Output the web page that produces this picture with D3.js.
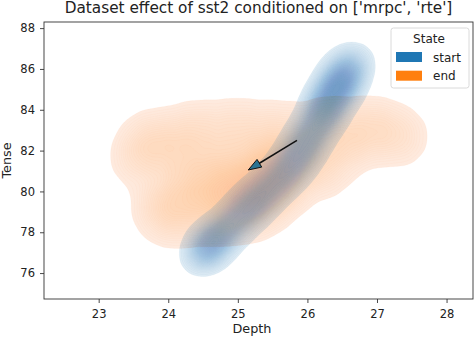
<!DOCTYPE html>
<html>
<head>
<meta charset="utf-8">
<script src="https://cdn.jsdelivr.net/npm/d3@7"></script>
<style>
  body { margin: 0; background: #fff; }
  text { font-family: "DejaVu Sans", sans-serif; fill: #222; }
</style>
</head>
<body>
<svg id="chart" width="474" height="338"></svg>
<script>
// samples per state: [Depth, Tense]
const startPoints = [
  [24.46, 76.9], [24.54, 77.0], [24.58, 77.4], [24.68, 77.5], [24.74, 77.9], [24.86, 78.0],
  [24.90, 78.5], [25.05, 78.6], [25.07, 79.1], [25.22, 79.2], [25.22, 79.6], [25.37, 79.7],
  [25.41, 80.2], [25.55, 80.3], [25.60, 80.8], [25.74, 80.9], [25.74, 81.4], [25.88, 81.5],
  [25.85, 82.0], [25.99, 82.1], [25.95, 82.6], [26.09, 82.7], [26.06, 83.2], [26.20, 83.3],
  [26.17, 83.8], [26.31, 83.9], [26.27, 84.4], [26.41, 84.5], [26.37, 85.0], [26.51, 85.1],
  [26.46, 85.6], [26.60, 85.7], [26.55, 86.1], [26.68, 86.3],
  [26.30, 84.7], [26.42, 85.2], [26.22, 84.1], [26.50, 85.4], [24.64, 77.6]
];
const endPoints = [
  [23.8, 82.6], [24.4, 83.0], [25.0, 83.1], [25.6, 83.0], [26.3, 83.2], [26.9, 83.2],
  [23.6, 81.7], [24.2, 81.9], [24.8, 81.6], [25.4, 81.8], [26.0, 82.0], [26.6, 82.3], [27.3, 82.7],
  [24.2, 80.4], [24.6, 80.6], [25.1, 80.3], [25.7, 80.8], [26.2, 81.1],
  [23.9, 79.3], [24.5, 79.5], [25.1, 79.6], [25.5, 79.9],
  [24.1, 78.7], [24.7, 78.8], [25.2, 79.0],
  [25.3, 80.9], [25.6, 81.2], [24.9, 80.0], [25.5, 80.2]
];
// mean shift start -> end
const arrowFrom = [25.85, 82.5];
const arrowTo = [25.15, 81.05];

const states = ['start', 'end'];
const stateColors = ['#1f77b4', '#ff7f0e'];
const contourColors = ['#1f77b4', '#f8803a'];
const xTicks = [23, 24, 25, 26, 27, 28];
const yTicks = [76, 78, 80, 82, 84, 86, 88];

const W = 474, H = 338;
const margin = {left: 44, right: 473, top: 22, bottom: 299};

const svg = d3.select('#chart');

const x = d3.scaleLinear().domain([22.214, 28.38]).range([margin.left, margin.right]);
const y = d3.scaleLinear().domain([74.73, 88.3]).range([margin.bottom, margin.top]);

svg.append('defs').append('clipPath').attr('id', 'plotclip')
  .append('rect')
  .attr('x', margin.left).attr('y', margin.top)
  .attr('width', margin.right - margin.left).attr('height', margin.bottom - margin.top);

const plot = svg.append('g').attr('clip-path', 'url(#plotclip)');

const densityFor = bw => d3.contourDensity()
  .x(d => x(d[0]))
  .y(d => y(d[1]))
  .size([W, H])
  .cellSize(2)
  .bandwidth(bw);

const drawDensity = (points, color, bw, opts) => {
  // find the peak first, then lay out evenly spaced levels above the cut
  const probe = densityFor(bw).thresholds(400)(points);
  const peak = probe[probe.length - 1].value;
  const levels = d3.range(opts.n).map(i => peak * (opts.cut + (1 - opts.cut) * i / opts.n));
  const contours = densityFor(bw).thresholds(levels)(points);

  plot.append('g')
    .selectAll('path')
    .data(contours)
    .join('path')
    .attr('d', d3.geoPath())
    .attr('fill', color)
    .attr('fill-opacity', (d, i) => i === 0 ? opts.base : opts.step)
    .attr('stroke', color)
    .attr('stroke-opacity', opts.line)
    .attr('stroke-width', 0.6);
};

drawDensity(endPoints, contourColors[1], 16, {n: 45, cut: 0.05, base: 0.17, step: 0.011, line: 0.06});
drawDensity(startPoints, contourColors[0], 11, {n: 45, cut: 0.05, base: 0.15, step: 0.013, line: 0.07});

// arrow from start mean to end mean
const ax0 = x(arrowFrom[0]), ay0 = y(arrowFrom[1]);
const ax1 = x(arrowTo[0]), ay1 = y(arrowTo[1]);
const ang = Math.atan2(ay1 - ay0, ax1 - ax0);
const headLen = 13, headW = 4.5;
const bx = ax1 - headLen * Math.cos(ang), by = ay1 - headLen * Math.sin(ang);
plot.append('line')
  .attr('x1', ax0).attr('y1', ay0)
  .attr('x2', bx).attr('y2', by)
  .attr('stroke', '#111')
  .attr('stroke-width', 1.5);
plot.append('path')
  .attr('d', d3.line()([
    [ax1, ay1],
    [bx + headW * Math.sin(ang), by - headW * Math.cos(ang)],
    [bx - headW * Math.sin(ang), by + headW * Math.cos(ang)]
  ]) + 'Z')
  .attr('fill', '#2a7392')
  .attr('stroke', '#111')
  .attr('stroke-width', 1);

// frame
svg.append('rect')
  .attr('x', margin.left).attr('y', margin.top)
  .attr('width', margin.right - margin.left).attr('height', margin.bottom - margin.top)
  .attr('fill', 'none')
  .attr('stroke', '#333')
  .attr('stroke-width', 0.9);

const xAxis = svg.append('g')
  .attr('transform', `translate(0,${margin.bottom})`)
  .call(d3.axisBottom(x).tickValues(xTicks).tickFormat(d3.format('d')).tickSize(4).tickPadding(7));
const yAxis = svg.append('g')
  .attr('transform', `translate(${margin.left},0)`)
  .call(d3.axisLeft(y).tickValues(yTicks).tickFormat(d3.format('d')).tickSize(4).tickPadding(5));
[xAxis, yAxis].forEach(g => {
  g.select('.domain').remove();
  g.selectAll('line').attr('stroke', '#333').attr('stroke-width', 0.9);
  g.selectAll('text').attr('font-size', 11.5).attr('font-family', '"DejaVu Sans", sans-serif').attr('fill', '#222');
});

svg.append('text')
  .attr('x', (margin.left + margin.right) / 2).attr('y', 13)
  .attr('text-anchor', 'middle')
  .attr('font-size', 15.3)
  .text("Dataset effect of sst2 conditioned on ['mrpc', 'rte']");

svg.append('text')
  .attr('x', 252).attr('y', 333)
  .attr('text-anchor', 'middle')
  .attr('font-size', 12.8)
  .text('Depth');

svg.append('text')
  .attr('transform', `translate(11,${(margin.top + margin.bottom) / 2}) rotate(-90)`)
  .attr('text-anchor', 'middle')
  .attr('font-size', 12.8)
  .text('Tense');

// legend
const legend = svg.append('g');
legend.append('rect')
  .attr('x', 391).attr('y', 28)
  .attr('width', 78).attr('height', 60)
  .attr('rx', 2.5)
  .attr('fill', '#fff').attr('fill-opacity', 0.8)
  .attr('stroke', '#d0d0d0').attr('stroke-width', 0.8);
legend.append('text')
  .attr('x', 429).attr('y', 43)
  .attr('text-anchor', 'middle')
  .attr('font-size', 12)
  .text('State');
states.forEach((s, i) => {
  legend.append('rect')
    .attr('x', 396).attr('y', 52 + i * 18.7)
    .attr('width', 26).attr('height', 10)
    .attr('fill', stateColors[i]);
  legend.append('text')
    .attr('x', 433).attr('y', 61.5 + i * 18.7)
    .attr('font-size', 12)
    .text(s);
});
</script>
</body>
</html>
